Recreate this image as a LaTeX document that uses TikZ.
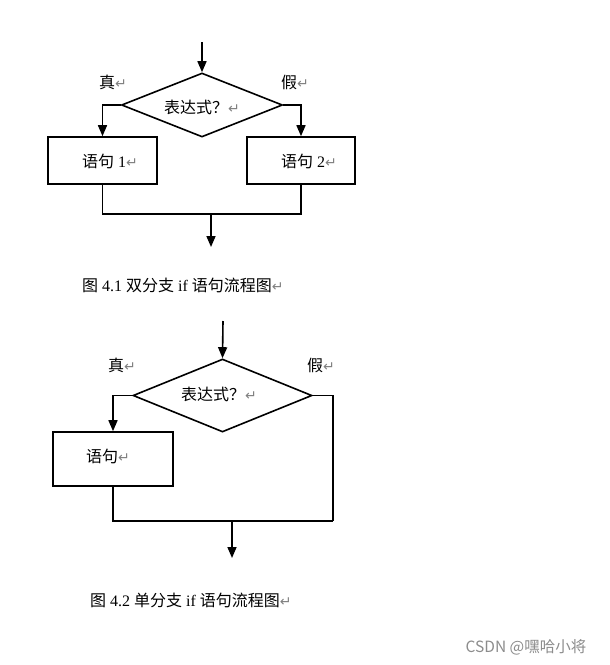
\documentclass[tikz,border=0pt]{standalone}
\usepackage{fontspec}
\setmainfont{Liberation Serif}
\newfontfamily\cjk{Noto Sans CJK SC}
\newfontfamily\symf{DejaVu Sans}
\usetikzlibrary{arrows.meta,shapes.geometric}
\newcommand\pmk{{\symf\fontsize{14}{14}\selectfont\color{gray}↵}}
\tikzset{
  flow/.style={line width=1.6pt},
  arr/.style={flow,-{Triangle[length=11pt,width=9pt]}},
  box/.style={draw,line width=1.6pt,inner sep=0pt},
  dec/.style={diamond,draw,line width=1.6pt,inner sep=0pt},
  txt/.style={font=\fontsize{16}{18}\selectfont,inner sep=0pt},
}
\begin{document}
\begin{tikzpicture}[x=1pt,y=-1pt]
\useasboundingbox (0,0) rectangle (610,665);
% ---------- figure 4.1
\coordinate (s1) at (202,42);
\node[dec,minimum width=161pt,minimum height=64pt] (d1) at (202,105) {};
\node[box,minimum width=109pt,minimum height=47pt] (b1) at (102.5,160.5) {};
\node[box,minimum width=108pt,minimum height=47pt] (b2) at (301,160.5) {};
\coordinate (j1) at (211,214);
\coordinate (e1) at (211,247);
\draw[arr] (s1) -- (d1.north);
\draw[arr] (d1.west) -| (b1.north);
\draw[arr] (d1.east) -| (b2.north);
\draw[flow] (b1.south) |- (j1) -| (b2.south);
\draw[arr] (j1) -- (e1);
\node[txt] (q1) at (202,107) {{\cjk 表达式？}\pmk};
\node[txt] (t1) at (113,82) {{\cjk 真}\pmk};
\node[txt] (f1) at (295,82) {{\cjk 假}\pmk};
\node[txt] (l1) at (110,161) {{\cjk 语句} 1\pmk};
\node[txt] (l2) at (309,161) {{\cjk 语句} 2\pmk};
\node[txt,anchor=west] (c1) at (82,285) {{\cjk 图} 4.1 {\cjk 双分支} if {\cjk 语句流程图}\pmk};
% ---------- figure 4.2
\coordinate (s2) at (223,321);
\node[dec,minimum width=179pt,minimum height=73pt] (d2) at (222.5,395.5) {};
\node[box,minimum width=120pt,minimum height=54pt] (b3) at (113,459) {};
\coordinate (r2) at (333,521);
\coordinate (j2) at (232,521);
\coordinate (e2) at (232,558);
\draw[arr] (s2) -- (d2.north);
\draw[arr] (d2.west) -| (b3.north);
\draw[flow] (d2.east) -| (r2);
\draw[flow] (b3.south) |- (r2);
\draw[arr] (j2) -- (e2);
\node[txt] (q2) at (219,394) {{\cjk 表达式？}\pmk};
\node[txt] (t2) at (122,365) {{\cjk 真}\pmk};
\node[txt] (f2) at (321,365) {{\cjk 假}\pmk};
\node[txt] (l3) at (108,456) {{\cjk 语句}\pmk};
\node[txt,anchor=west] (c2) at (90,600) {{\cjk 图} 4.2 {\cjk 单分支} if {\cjk 语句流程图}\pmk};
% watermark
\node[font=\cjk\fontsize{15.5}{17}\selectfont,text=black!45,inner sep=0pt] (w) at (526,647) {CSDN @嘿哈小将};
\end{tikzpicture}
\end{document}
